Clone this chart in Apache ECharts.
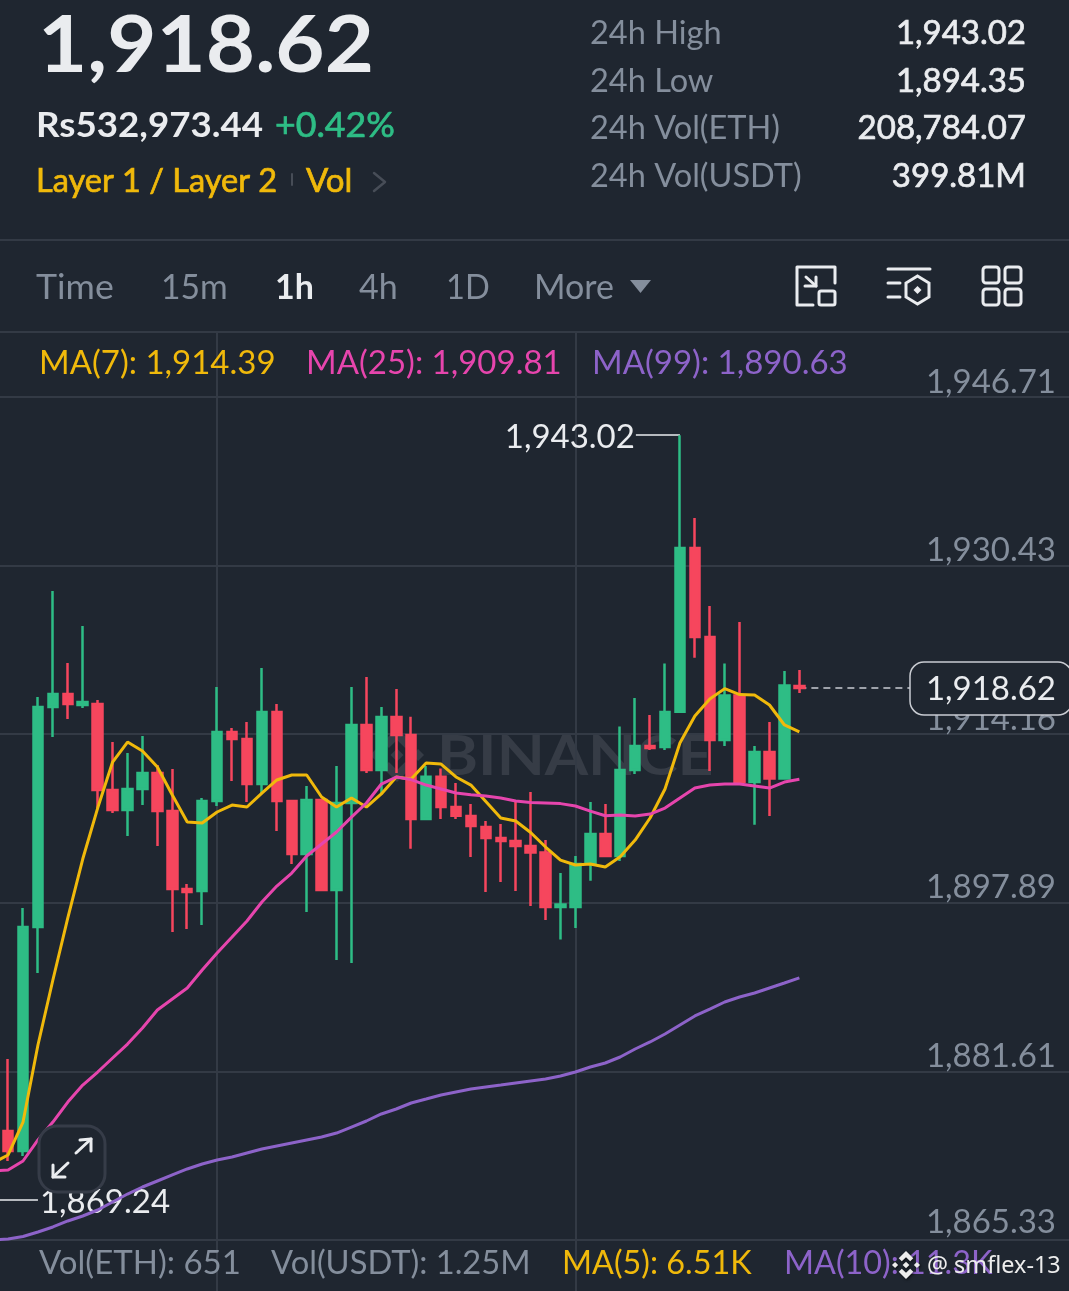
<!DOCTYPE html>
<html>
<head>
<meta charset="utf-8">
<style>html,body{margin:0;padding:0;background:#1f2630}#c{width:1069px;height:1291px}</style>
<script src="https://cdn.jsdelivr.net/npm/echarts@6/dist/echarts.min.js"></script>
</head>
<body>
<div id="c"></div>
<script>
const opens=[1873.0,1875.86,1873.93,1895.55,1916.79,1918.04,1916.98,1917.08,1908.77,1906.84,1908.87,1910.41,1906.75,1899.22,1899.02,1907.71,1914.37,1913.70,1909.35,1916.30,1907.71,1902.60,1907.81,1899.12,1907.52,1915.05,1910.70,1915.82,1914.08,1905.97,1910.05,1907.13,1906.26,1905.20,1904.14,1903.85,1903.37,1902.74,1897.48,1897.48,1901.68,1904.53,1902.40,1910.70,1913.02,1912.92,1916.33,1932.13,1923.54,1913.60,1917.90,1909.55,1912.44,1909.88,1918.81];
const closes=[1875.86,1873.93,1895.55,1916.79,1918.04,1917.08,1917.27,1908.77,1906.84,1908.87,1910.41,1906.75,1899.22,1898.93,1907.71,1914.37,1913.70,1909.35,1916.30,1907.71,1902.60,1907.81,1899.12,1907.52,1915.05,1910.70,1915.82,1914.08,1905.97,1910.05,1907.13,1906.29,1905.30,1904.14,1903.85,1903.37,1902.74,1897.48,1897.72,1901.63,1904.53,1902.40,1910.70,1913.02,1912.83,1916.30,1932.13,1923.54,1913.60,1917.90,1909.55,1912.44,1909.88,1918.86,1918.62];
const lows=[1869.24,1872.96,1873.44,1891.11,1913.89,1915.63,1916.69,1907.04,1906.55,1904.33,1907.33,1903.37,1895.07,1895.36,1895.74,1907.23,1909.64,1907.61,1908.48,1904.82,1901.63,1897.00,1899.02,1892.36,1892.07,1910.41,1908.48,1910.41,1903.11,1905.97,1905.97,1905.97,1902.31,1898.93,1899.89,1899.02,1897.58,1896.22,1894.35,1895.45,1900.02,1902.40,1901.92,1910.32,1912.63,1912.63,1916.33,1921.55,1910.61,1913.02,1909.55,1905.43,1906.26,1909.88,1918.14];
const highs=[1877.0,1882.81,1897.38,1917.75,1927.98,1921.03,1924.60,1917.46,1913.41,1912.35,1913.99,1911.19,1910.80,1899.70,1908.00,1918.72,1914.76,1915.34,1920.55,1917.08,1907.71,1909.16,1907.81,1911.09,1918.72,1919.68,1916.79,1918.52,1915.84,1911.09,1910.85,1909.45,1907.42,1905.78,1905.49,1907.76,1908.58,1903.95,1900.76,1902.40,1907.61,1907.42,1914.90,1917.65,1916.01,1920.98,1943.02,1935.03,1926.54,1920.98,1924.99,1913.02,1915.34,1920.26,1920.36];
const ma7=[1872.77,1873.54,1876.72,1884.16,1890.43,1896.42,1902.11,1907.03,1911.47,1913.40,1912.54,1910.99,1908.29,1905.68,1905.59,1906.65,1907.32,1907.13,1908.48,1909.74,1910.22,1910.22,1908.10,1907.13,1908.00,1907.13,1908.39,1910.03,1909.83,1911.38,1911.28,1910.03,1909.25,1907.66,1906.07,1905.78,1904.67,1903.27,1902.01,1901.53,1901.63,1901.34,1902.34,1903.94,1906.07,1908.87,1913.31,1915.91,1917.56,1918.56,1917.99,1917.94,1916.98,1915.05,1914.39];
const ma25=[1871.99,1872.09,1872.96,1874.99,1876.72,1878.65,1880.29,1881.55,1882.90,1884.25,1885.80,1887.53,1888.60,1889.66,1891.40,1893.04,1894.58,1896.13,1897.96,1899.50,1900.76,1902.40,1903.56,1904.72,1906.16,1907.52,1909.35,1910.03,1909.78,1909.25,1908.87,1908.48,1908.32,1908.19,1908.00,1907.71,1907.56,1907.52,1907.46,1907.23,1906.74,1906.29,1906.36,1906.26,1906.45,1907.03,1908.00,1908.96,1909.25,1909.35,1909.35,1909.16,1908.96,1909.54,1909.81];
const ma99=[1865.33,1865.43,1865.67,1866.11,1866.59,1867.17,1867.65,1868.23,1869.00,1869.77,1870.45,1871.03,1871.61,1872.19,1872.67,1873.06,1873.34,1873.73,1874.12,1874.41,1874.70,1874.99,1875.28,1875.66,1876.24,1876.82,1877.50,1877.98,1878.56,1878.94,1879.33,1879.62,1879.91,1880.10,1880.29,1880.49,1880.68,1880.87,1881.16,1881.55,1882.03,1882.42,1883.00,1883.77,1884.45,1885.22,1886.09,1886.96,1887.63,1888.31,1888.79,1889.18,1889.66,1890.14,1890.63];
const yTicks=[1865.33,1881.61,1897.89,1914.16,1930.43,1946.71];
const candleIndex=opens.map((_,i)=>i);
const gridMarks=[15,39];
const xMin=0.458, xMax=72.06;
const highPoint={value:1943.02,from:43.05,to:46};
const lowPoint={value:1869.24,from:xMin,to:3};
const lastIndex=54, lastPrice=1918.62, lastLeaderTo=62;

const statLabels=['24h High','24h Low','24h Vol(ETH)','24h Vol(USDT)'];
const statValues=['1,943.02','1,894.35','208,784.07','399.81M'];
const tabs=[['Time',36,1.05],['15m',161,.99],['1h',275,1],['4h',359,1],['1D',446,.96],['More',534,1]];

const BG='#1f2630',LINE='#333a45',WHITE='#eaecef',GREY='#848e9c',YEL='#f0b90b',PINK='#e645ad',PUR='#8d63c9',GREEN='#2ebd85',RED='#f6465d';
const FF='Lato, "Noto Sans", sans-serif';
const fmt=v=>v.toLocaleString('en-US',{minimumFractionDigits:2,maximumFractionDigits:2});

function T(x,y,text,size,fill,weight,align,z,extra,sx){
  return {type:'text',x,y,z:z||50,silent:true,scaleX:sx||1,style:Object.assign({text,fill,font:(weight||400)+' '+size+'px '+FF,textAlign:align||'left',textVerticalAlign:'middle',align:align||'left',verticalAlign:'middle'},extra||{})};
}
const heavier=c=>({stroke:c,lineWidth:.7});
function PL(points,stroke,w,z){return {type:'polyline',z:z||50,silent:true,shape:{points},style:{stroke,lineWidth:w||3,fill:null,lineCap:'round',lineJoin:'round'}};}
function PG(points,fill,z,extra){return {type:'polygon',z:z||50,silent:true,shape:{points},style:Object.assign({fill},extra||{})};}
function RR(x,y,w,h,r,style,z){return {type:'rect',z:z||50,silent:true,shape:{x,y,width:w,height:h,r},style};}
function logo(cx,cy,r,fill,z,extra){
  const P=a=>a.map(p=>[cx+p[0]*r,cy+p[1]*r]);
  return [
    [[0,-.24],[.24,0],[0,.24],[-.24,0]],
    [[-.78,-.22],[-.56,0],[-.78,.22],[-1,0]],
    [[.78,-.22],[1,0],[.78,.22],[.56,0]],
    [[0,-1],[.52,-.48],[.3,-.26],[0,-.56],[-.3,-.26],[-.52,-.48]],
    [[0,1],[.52,.48],[.3,.26],[0,.56],[-.3,.26],[-.52,.48]]
  ].map(a=>PG(P(a),fill,z,extra));
}

const g=[];
g.push(...logo(397,755,27,'#363c46',1));
g.push(T(437,757,'BINANCE',56,'#363c46',700,'left',1,null,1.115));
g.push(T(38,47,'1,918.62',78,WHITE,700,'left',50,null,1.09));
g.push(T(36,126,'Rs532,973.44',34,WHITE,700,'left',50,null,1.08));
g.push(T(275,126,'+0.42%',34,GREEN,400,'left',50,heavier(GREEN),1.05));
g.push(T(36,181,'Layer 1 / Layer 2',33,YEL,400,'left',50,heavier(YEL),.985));
g.push(T(306,181,'Vol',33,YEL,400,'left',50,heavier(YEL)));
g.push(PL([[292,174],[292,185]],'#474d57',2));
g.push(PL([[374,173],[385,182],[374,191]],'#474d57',2.5));
statLabels.forEach((s,i)=>{const y=[33,81,128,176][i];
  g.push(T(590,y,s,33,GREY,400,'left',50,null,.985));
  g.push(T(1026,y,statValues[i],33,WHITE,400,'right',50,heavier(WHITE)));});
g.push(PL([[0,240],[1069,240]],LINE,2),PL([[0,332],[1069,332]],LINE,2));
tabs.forEach(t=>g.push(T(t[1],288,t[0],34,t[0]==='1h'?WHITE:GREY,t[0]==='1h'?700:400,'left',50,null,t[2])));
g.push(PG([[630,280],[651,280],[640.5,293]],GREY));
g.push(PL([[813,305],[797,305],[797,267],[835,267],[835,283]],WHITE,3));
g.push(RR(819,291,16,14,2,{fill:null,stroke:WHITE,lineWidth:3}));
g.push(PL([[806,277],[816,286]],WHITE,3),PL([[816,277],[816,286],[805,286]],WHITE,3));
g.push(PL([[888,269],[930,269]],WHITE,3),PL([[888,283],[900,283]],WHITE,3),PL([[888,297],[900,297]],WHITE,3));
g.push(PG([[917.5,276],[929,283],[929,297],[917.5,304],[906,297],[906,283]],'none',50,{stroke:WHITE,lineWidth:3}));
g.push(PG([[917.5,286],[921.5,290],[917.5,294],[913.5,290]],WHITE));
[[983,267],[1005,267],[983,289],[1005,289]].forEach(p=>g.push(RR(p[0],p[1],16,16,3,{fill:null,stroke:WHITE,lineWidth:3})));
g.push(T(39,363,'MA(7): 1,914.39',33,YEL),T(306,363,'MA(25): 1,909.81',33,PINK),T(592,363,'MA(99): 1,890.63',33,PUR));
g.push(RR(39,1126,66,66,18,{fill:BG,stroke:'#363c48',lineWidth:3},40));
g.push(PL([[76,1153],[91,1139]],WHITE,3,41),PL([[80,1140],[91,1139],[91,1151]],WHITE,3,41));
g.push(PL([[68,1163],[53,1177]],WHITE,3,41),PL([[53,1165],[53,1177],[65,1177]],WHITE,3,41));
g.push(RR(910,662,162,53,14,{fill:BG,stroke:'#c9ccd2',lineWidth:1.5},60));
g.push(T(1056,689,fmt(lastPrice),33,WHITE,400,'right',61));
g.push(T(39,1263,'Vol(ETH): 651',33,GREY),T(271,1263,'Vol(USDT): 1.25M',33,GREY,400,'left',50,null,.99),T(562,1263,'MA(5): 6.51K',33,YEL,400,'left',50,null,.98),T(784,1263,'MA(10): 11.3K',33,PUR,400,'left',50,null,.98));
const sh={shadowColor:'rgba(0,0,0,.7)',shadowBlur:3,shadowOffsetX:1,shadowOffsetY:1};
g.push(...logo(906,1265,14,'#ededed',70,sh));
g.push(T(927,1266,'@ smflex-13',24,'#ededed',400,'left',70,Object.assign({font:'400 24px "Noto Sans", sans-serif'},sh),.975));

const chart=echarts.init(document.getElementById('c'),null,{renderer:'canvas'});
const lineSeries=(name,data,color,z)=>({name,type:'line',data:data.map((v,i)=>[candleIndex[i],v]),z,symbol:'none',smooth:false,silent:true,lineStyle:{color,width:3},itemStyle:{color}});
const tickRich={fontFamily:'Lato',fontSize:33,color:GREY};
chart.setOption({
  animation:false,backgroundColor:BG,
  grid:{left:0,right:0,top:333,bottom:0},
  xAxis:{type:'value',min:xMin,max:xMax,axisLine:{show:false},axisTick:{show:false},axisLabel:{show:false},splitLine:{show:false}},
  yAxis:{type:'value',position:'right',min:1860.41,max:1952.89,scale:true,
    axisLine:{show:false},
    axisTick:{show:false,customValues:yTicks},
    splitLine:{show:true,lineStyle:{color:LINE,width:2}},
    axisLabel:{inside:true,margin:13,customValues:yTicks,verticalAlign:'middle',color:GREY,fontFamily:'Lato',fontSize:33,
      formatter:v=>(v===yTicks[0]?'{low|':'{std|')+fmt(v)+'}',
      rich:{std:Object.assign({padding:[0,0,30,0]},tickRich),low:Object.assign({padding:[0,0,36,0]},tickRich)}}},
  graphic:{elements:g},
  series:[
    {type:'candlestick',z:2,silent:true,barWidth:10,
      data:opens.map((o,i)=>[candleIndex[i],o,closes[i],lows[i],highs[i]]),
      itemStyle:{color:GREEN,color0:RED,borderColor:GREEN,borderColor0:RED,borderWidth:2.5},
      markLine:{silent:true,symbol:'none',animation:false,precision:2,z:2,
        lineStyle:{color:WHITE,width:1.5,type:'solid'},
        label:{show:true,color:WHITE,fontFamily:'Lato',fontSize:33,distance:2},
        data:[
          [{coord:[highPoint.from,highPoint.value],label:{position:'start',formatter:fmt(highPoint.value),offset:[1,2]}},{coord:[highPoint.to,highPoint.value]}],
          [{coord:[lowPoint.from,lowPoint.value]},{coord:[lowPoint.to,lowPoint.value],label:{position:'end',formatter:fmt(lowPoint.value),offset:[0,3]}}],
          [{coord:[lastIndex,lastPrice],lineStyle:{type:[7,5],color:'#c9ccd2',width:1.5},label:{show:false}},{coord:[lastLeaderTo,lastPrice]}],
          ...gridMarks.map(i=>[{coord:[i,1952.89],lineStyle:{color:LINE,width:2,type:'solid'},label:{show:false}},{coord:[i,1860.41]}])
        ]}},
    lineSeries('MA7',ma7,YEL,3),
    lineSeries('MA25',ma25,PINK,4),
    lineSeries('MA99',ma99,PUR,5)
  ]
});
</script>
</body>
</html>
